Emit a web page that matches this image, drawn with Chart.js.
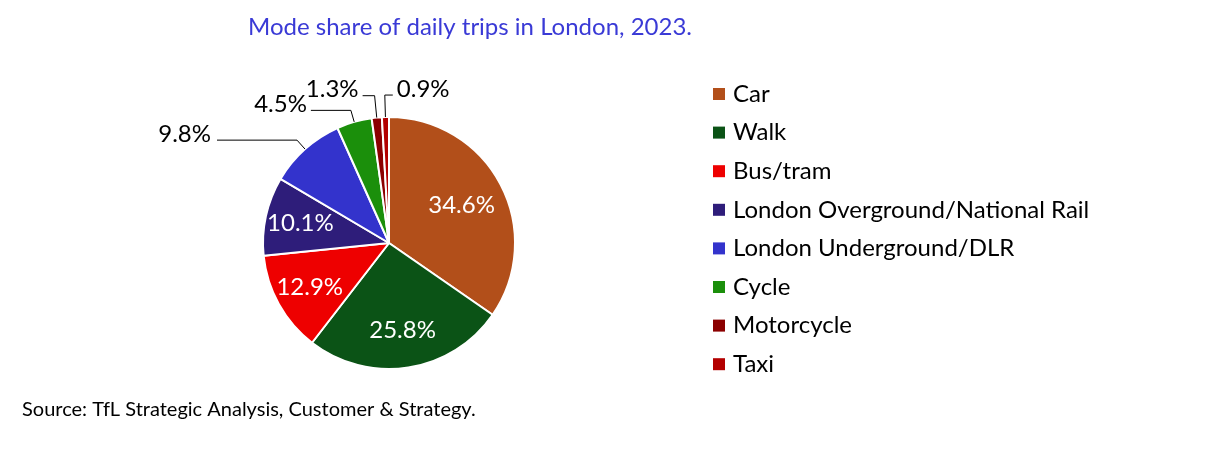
<!DOCTYPE html>
<html><head><meta charset="utf-8">
<script src="https://cdn.jsdelivr.net/npm/chart.js@4"></script>
<style>html,body{margin:0;padding:0;background:#fff}#w{width:1217px;height:468px;position:relative}</style>
</head><body><div id="w"><canvas id="c"></canvas></div>
<script>
const categories=["Car","Walk","Bus/tram","London Overground/National Rail","London Underground/DLR","Cycle","Motorcycle","Taxi"];
const shares=[34.6,25.8,12.9,10.1,9.8,4.5,1.3,0.9];
const colors=["#b24f1a","#0b5316","#ee0000","#2e1d7a","#3333cc","#1b8f0b","#8b0000","#b30000"];
const title="Mode share of daily trips in London, 2023.";
const source="Source: TfL Strategic Analysis, Customer & Strategy.";
const FONT='"Lato", "Open Sans", sans-serif';
// outside label config: [elbow dx, text side]
const outside={4:{dx:-80,tx:-6,align:'right'},5:{dx:-40,tx:-4,align:'right'},6:{dx:-12,tx:-4,align:'right'},7:{dx:8,tx:4,align:'left'}};
const plug={id:'deco',afterDraw(ch){
 const c=ch.ctx;c.save();
 c.fillStyle='#3a3ad6';c.font='24px '+FONT;c.textAlign='center';c.textBaseline='middle';
 c.fillText(title,470,27);
 c.fillStyle='#000';c.font='20px '+FONT;c.textAlign='left';c.fillText(source,22,410);
 c.font='24px '+FONT;
 categories.forEach((n,i)=>{const y=94+i*38.6;c.fillStyle=colors[i];c.fillRect(713,y-6,12,12);c.fillStyle='#000';c.fillText(n,733,y);});
 const meta=ch.getDatasetMeta(0);
 meta.data.forEach((a,i)=>{
  const mid=(a.startAngle+a.endAngle)/2, r=a.outerRadius, cx=a.x, cy=a.y;
  const lbl=shares[i].toFixed(1)+'%';
  if(outside[i]){const o=outside[i];
   const p0=[cx+Math.cos(mid)*r,cy+Math.sin(mid)*r];
   const rr=r+ (i>=6?22:12);
   const p1=[cx+Math.cos(mid)*rr,cy+Math.sin(mid)*rr];
   const p2=[p1[0]+o.dx,p1[1]];
   c.strokeStyle='#000';c.lineWidth=1;c.beginPath();c.moveTo(...p0);c.lineTo(...p1);c.lineTo(...p2);c.stroke();
   c.fillStyle='#000';c.textAlign=o.align;c.fillText(lbl,p2[0]+o.tx,p2[1]-6);
  } else {
   const f=i==0?0.65:(i==1?0.7:0.72);
   c.fillStyle='#fff';c.textAlign='center';c.fillText(lbl,cx+Math.cos(mid)*r*f,cy+Math.sin(mid)*r*f);
  }
 });
 c.restore();}};
new Chart(document.getElementById('c'),{type:'pie',
 data:{labels:categories,datasets:[{data:shares,backgroundColor:colors,borderColor:'#fff',borderWidth:2}]},
 options:{responsive:true,maintainAspectRatio:false,animation:false,
  layout:{padding:{left:262,right:701,top:116,bottom:98}},
  plugins:{legend:{display:false},tooltip:{enabled:false}}},
 plugins:[plug]});
</script></body></html>
